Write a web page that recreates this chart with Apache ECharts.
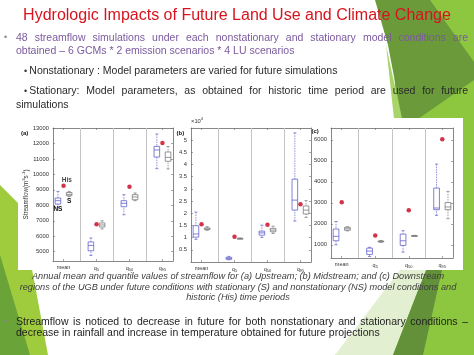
<!DOCTYPE html>
<html><head><meta charset="utf-8">
<script src="https://cdn.jsdelivr.net/npm/echarts@6/dist/echarts.min.js"></script>
<style>html,body{margin:0;padding:0;background:#fff}#c{width:474px;height:355px}</style>
</head><body><div id="c"></div>
<script>
// ---------- data ----------
const categories = ['mean', 'q5', 'q50', 'q95'];
// box stats: [min, q1, median, q3, max]
const upNS = [[7830,8080,8300,8470,8900],[4760,5060,5410,5630,5890],[7390,7910,8130,8300,8690],[10370,11120,11580,11810,12610]];
const upS = [[8560,8620,8710,8830,8900],[6470,6600,6730,6860,7000],[8300,8360,8540,8690,8800],[10350,10850,11100,11450,11800]];
const upHis = [9270, 6770, 9200, 12030];
const midNS = [[9300,10200,11500,14900,20500],[900,1100,1500,1900,2300],[10060,11010,11960,12660,15130],[16800,21300,25400,34000,53000]];
const midS = [[13000,13300,13600,14000,14500],[9450,9550,9650,9750,9850],[11700,12400,13100,13800,14700],[18300,19700,21300,23000,25200]];
const midHis = [15500, 10400, 15300, 23700];
const downNS = [[1000,1190,1400,1750,2110],[440,540,700,840,880],[650,970,1190,1510,1670],[2400,2670,2750,3700,4840]];
const downS = [[1660,1690,1760,1830,1860],[1120,1140,1160,1180,1200],[1400,1410,1430,1440,1450],[2240,2670,2800,3010,3540]];
const downHis = [3020, 1440, 2640, 6030];
const yTicksUp = [5000,6000,7000,8000,9000,10000,11000,12000,13000];
const yTicksMid = [5000,10000,15000,20000,25000,30000,35000,40000,45000,50000];
const yTicksDown = [1000,2000,3000,4000,5000,6000];

const titleText = 'Hydrologic Impacts of Future Land Use and Climate Change';
const bullet1 = ['48 streamflow simulations under each nonstationary and stationary model conditions are',
                 'obtained \u2013 6 GCMs * 2 emission scenarios * 4 LU scenarios'];
const sub1 = 'Nonstationary : Model parameters are varied for future simulations';
const sub2 = ['Stationary: Model parameters, as obtained for historic time period are used for future', 'simulations'];
const caption = ['Annual mean and quantile values of streamflow for (a) Upstream; (b) Midstream; and (c) Downstream',
                 'regions of the UGB under future conditions with stationary (S) and nonstationary (NS) model conditions and',
                 'historic (His) time periods'];
const bullet2 = ['Streamflow is noticed to decrease in future for both nonstationary and stationary conditions \u2013',
                 'decrease in rainfall and increase in temperature obtained for future projections'];

// ---------- helpers ----------
const FONT = 'Liberation Sans, Arial, sans-serif';
const cv = document.createElement('canvas').getContext('2d');
function justify(text, x0, x1, y, size, color) {
  cv.font = size + 'px "Liberation Sans"';
  const words = text.split(' ');
  const ws = words.map(w => cv.measureText(w).width);
  const total = ws.reduce((a, b) => a + b, 0);
  const gap = (x1 - x0 - total) / (words.length - 1);
  let x = x0; const out = [];
  words.forEach((w, i) => {
    out.push({type:'text', z:100, x:x, y:y, style:{text:w, fontSize:size, fontFamily:FONT, fill:color, align:'left', verticalAlign:'middle'}});
    x += ws[i] + gap;
  });
  return out;
}
function txt(text, x, y, size, color, opts) {
  return {type:'text', z:100, x:x, y:y, style:Object.assign({text:text, fontSize:size, fontFamily:FONT, fill:color, align:'left', verticalAlign:'middle'}, opts || {})};
}
function poly(points, fill, opacity) {
  return {type:'polygon', z:-10, silent:true, shape:{points:points}, style:{fill:fill, opacity:opacity == null ? 1 : opacity}};
}

function boxSeries(gi, stats, offset, color, tag) {
  return {
    type:'custom', xAxisIndex:gi, yAxisIndex:gi, z:5,
    data: stats.map((d, i) => [i + 1].concat(d)),
    encode:{x:0, y:[1,2,3,4,5]},
    renderItem: function (params, api) {
      const x = api.value(0) + offset;
      const p = [1,2,3,4,5].map(k => api.coord([x, api.value(k)]));
      const hw = api.size([0.085, 0])[0];
      const cw = hw * 0.55;
      const cx = p[0][0];
      const ls = {stroke:color, lineWidth:0.7, fill:null};
      const ch = [
        {type:'line', shape:{x1:cx, y1:p[4][1], x2:cx, y2:p[3][1]}, style:Object.assign({lineDash:[1.5,1]}, ls)},
        {type:'line', shape:{x1:cx, y1:p[0][1], x2:cx, y2:p[1][1]}, style:Object.assign({lineDash:[1.5,1]}, ls)},
        {type:'line', shape:{x1:cx - cw, y1:p[4][1], x2:cx + cw, y2:p[4][1]}, style:ls},
        {type:'line', shape:{x1:cx - cw, y1:p[0][1], x2:cx + cw, y2:p[0][1]}, style:ls},
        {type:'rect', shape:{x:cx - hw, y:p[3][1], width:hw * 2, height:Math.max(p[1][1] - p[3][1], 1)}, style:{stroke:color, lineWidth:0.8, fill:'#fff'}},
        {type:'line', shape:{x1:cx - hw, y1:p[2][1], x2:cx + hw, y2:p[2][1]}, style:{stroke:color, lineWidth:0.8}}
      ];
      if (tag && params.dataIndex === 0) {
        ch.push({type:'text', x:cx, y:p[1][1] + 1.5, style:{text:tag, fontSize:6.5, fontWeight:'bold', fontFamily:FONT, fill:'#111', align:'center', verticalAlign:'top'}});
      }
      return {type:'group', children:ch};
    }
  };
}
function hisSeries(gi, vals, withLabel) {
  return {
    type:'scatter', xAxisIndex:gi, yAxisIndex:gi, z:6,
    symbolSize:4.5, itemStyle:{color:'#c8001e'},
    data: vals.map((v, i) => {
      const it = {value:[i + 1, v]};
      if (withLabel && i === 0) it.label = {show:true, formatter:'His', position:[0.5, -6.5], fontSize:6.5, fontWeight:'bold', color:'#111', fontFamily:FONT};
      return it;
    }),
    markLine:{silent:true, symbol:'none', label:{show:false}, animation:false,
      lineStyle:{color:'#c4c4c4', width:1, type:'solid'},
      data:[{xAxis:1.5},{xAxis:2.5},{xAxis:3.5}]}
  };
}

// ---------- layout ----------
const grids = [
  {left:53, top:128, width:120, height:133},
  {left:191, top:128, width:120, height:134},
  {left:331, top:128, width:122, height:130}
];
const yRanges = [[4400, 13000], [0, 55000], [370, 6560]];
const yTicks = [yTicksUp, yTicksMid, yTicksDown];
const axCol = '#6a6a6a';
const xAxes = [], yAxes = [];
for (let g = 0; g < 3; g++) {
  xAxes.push({gridIndex:g, type:'value', min:0.68, max:4.32, position:'bottom', z:3,
    axisLine:{show:true, onZero:false, lineStyle:{color:axCol, width:0.8}},
    axisTick:{show:true, inside:true, length:2, customValues:[1,2,3,4], lineStyle:{color:axCol, width:0.6}},
    splitLine:{show:false},
    axisLabel:{customValues:[1,2,3,4], fontSize:5.5, color:'#333', margin:3, fontFamily:FONT,
      formatter: v => { const c = categories[Math.round(v) - 1]; return c === 'mean' ? c : 'q{s|' + c.slice(1) + '}'; },
      rich:{s:{fontSize:4, padding:[4,0,0,0], color:'#333'}}}
  });
}
for (let g = 0; g < 3; g++) {
  xAxes.push({gridIndex:g, type:'value', min:0.68, max:4.32, position:'top', z:3,
    axisLine:{show:true, onZero:false, lineStyle:{color:axCol, width:0.8}},
    axisTick:{show:true, inside:true, length:2, customValues:[1,2,3,4], lineStyle:{color:axCol, width:0.6}},
    splitLine:{show:false}, axisLabel:{show:false}});
}
for (let g = 0; g < 3; g++) {
  const y = {gridIndex:g, type:'value', min:yRanges[g][0], max:yRanges[g][1], position:'left', z:3,
    axisLine:{show:true, onZero:false, lineStyle:{color:axCol, width:0.8}},
    axisTick:{show:true, inside:true, length:2, customValues:yTicks[g], lineStyle:{color:axCol, width:0.6}},
    splitLine:{show:false},
    axisLabel:{customValues:yTicks[g], fontSize:5.8, color:'#333', margin:4, fontFamily:FONT,
      formatter: g === 1 ? (v => String(v / 10000)) : (v => String(v))}
  };
  if (g === 0) {
    y.name = 'Streamflow(m{p|3}s{p|-1})'; y.nameLocation = 'middle'; y.nameGap = 21; y.nameRotate = 90;
    y.nameTextStyle = {fontSize:6.3, color:'#333', fontFamily:FONT, rich:{p:{fontSize:4.2, padding:[0,0,4,0], color:'#333'}}};
  }
  if (g === 1) {
    y.name = '\u00d710{p|4}'; y.nameLocation = 'end'; y.nameGap = 3;
    y.nameTextStyle = {fontSize:5.8, color:'#333', align:'left', fontFamily:FONT, rich:{p:{fontSize:4, padding:[0,0,4,0], color:'#333'}}};
  }
  yAxes.push(y);
}
for (let g = 0; g < 3; g++) {
  yAxes.push({gridIndex:g, type:'value', min:yRanges[g][0], max:yRanges[g][1], position:'right', z:3,
    axisLine:{show:true, onZero:false, lineStyle:{color:axCol, width:0.8}},
    axisTick:{show:true, inside:true, length:2, customValues:yTicks[g], lineStyle:{color:axCol, width:0.6}},
    splitLine:{show:false}, axisLabel:{show:false}});
}

const NScol = '#6262cc', Scol = '#7a7a7a';
const series = [
  boxSeries(0, upNS, -0.17, NScol, 'NS'), boxSeries(0, upS, 0.17, Scol, 'S'), hisSeries(0, upHis, true),
  boxSeries(1, midNS, -0.17, NScol), boxSeries(1, midS, 0.17, Scol), hisSeries(1, midHis, false),
  boxSeries(2, downNS, -0.17, NScol), boxSeries(2, downS, 0.17, Scol), hisSeries(2, downHis, false)
];

// ---------- decorations & texts ----------
const gfx = [
  // right-side facets
  poly([[392,0],[474,0],[474,355],[335,355],[442,270],[396,119]], '#8dc63f'),
  poly([[375,0],[430,0],[474,62],[474,80],[418,119],[402,119],[388,45]], '#6a9a3a'),
  poly([[386,45],[402,119],[394,119]], '#a9d46a'),
  poly([[400,270],[426,270],[393,355],[335,355]], '#e2efd0'),
  poly([[426,270],[442,270],[423,355],[393,355]], '#62913a'),
  // left facets
  poly([[0,185],[20,205],[48,355],[0,355]], '#9fcc3c'),
  poly([[0,255],[30,355],[0,355]], '#6aa338'),
  {type:'rect', z:-5, silent:true, shape:{x:18, y:118, width:445, height:152}, style:{fill:'#ffffff'}},
  txt(titleText, 237, 15.5, 16, '#d7141e', {align:'center'}),
  txt('\u2022', 4, 38, 9, '#8a8a8a'),
  ...justify(bullet1[0], 16, 468, 38.5, 10.5, '#7a5a9e'),
  txt(bullet1[1], 16, 51.3, 10.5, '#7a5a9e'),
  txt('\u2022', 24, 71.3, 9, '#333'),
  txt(sub1, 29.3, 71.5, 10.5, '#2a2a2a'),
  txt('\u2022', 24, 91.3, 9, '#333'),
  ...justify(sub2[0], 29.3, 468, 91.5, 10.5, '#2a2a2a'),
  txt(sub2[1], 16, 105, 10.5, '#2a2a2a'),
  txt('(a)', 21, 133, 6, '#111', {fontWeight:'bold'}),
  txt('(b)', 176.5, 133, 6, '#111', {fontWeight:'bold'}),
  txt('(c)', 311.5, 131, 6, '#111', {fontWeight:'bold'}),
  txt(caption[0], 238, 276, 9.2, '#3d3d3d', {align:'center', fontStyle:'italic'}),
  txt(caption[1], 238, 287, 9.2, '#3d3d3d', {align:'center', fontStyle:'italic'}),
  txt(caption[2], 238, 297.5, 9.2, '#3d3d3d', {align:'center', fontStyle:'italic'}),
  txt('\u2022', 4, 321.5, 9, '#8a8a8a'),
  ...justify(bullet2[0], 16, 468, 322, 10.5, '#1e1e1e'),
  txt(bullet2[1], 16, 333, 10.5, '#1e1e1e')
];

const chart = echarts.init(document.getElementById('c'), null, {renderer:'canvas'});
chart.setOption({
  animation:false,
  grid: grids.map(g => Object.assign({show:false, containLabel:false}, g)),
  xAxis: xAxes, yAxis: yAxes, series: series, graphic: {elements: gfx}
});
</script></body></html>
